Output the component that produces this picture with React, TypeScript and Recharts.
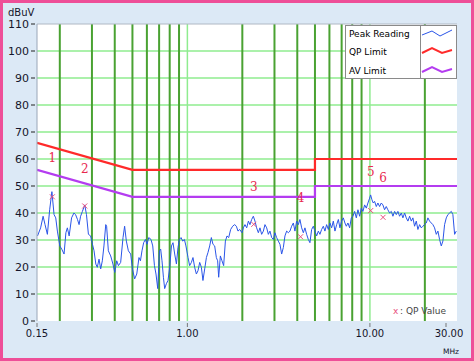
import React from "react";
import {
  ComposedChart,
  Line,
  Scatter,
  XAxis,
  YAxis,
  CartesianGrid,
  ReferenceLine,
} from "recharts";

// peak reading trace (MHz / dBuV)
const peakFreq = [
  0.151, 0.157, 0.162, 0.166, 0.171, 0.176, 0.181, 0.186, 0.19, 0.194, 0.2, 0.205, 0.211, 0.216,
  0.22, 0.225, 0.232, 0.239, 0.244, 0.25, 0.255, 0.26, 0.266, 0.274, 0.28, 0.287, 0.295, 0.302,
  0.308, 0.315, 0.321, 0.328, 0.335, 0.342, 0.349, 0.357, 0.361, 0.369, 0.38, 0.391, 0.4, 0.41,
  0.419, 0.431, 0.444, 0.453, 0.463, 0.475, 0.489, 0.5, 0.514, 0.528, 0.543,
  0.553, 0.564, 0.576, 0.589, 0.601, 0.614, 0.632, 0.646, 0.66, 0.673, 0.688, 0.703, 0.714,
  0.726, 0.739, 0.751, 0.767, 0.783, 0.8, 0.818, 0.834, 0.852, 0.871, 0.888, 0.904, 0.923,
  0.943, 0.963, 0.982, 1.008, 1.029, 1.052, 1.073, 1.096, 1.12, 1.143, 1.168, 1.193, 1.217,
  1.244, 1.271, 1.297, 1.325, 1.353, 1.381, 1.411, 1.441, 1.465, 1.484, 1.516, 1.547, 1.58,
  1.615, 1.648, 1.684, 1.726, 1.77, 1.816, 1.855, 1.893, 1.934, 1.991,
  2.026, 2.068, 2.113, 2.159, 2.202, 2.25, 2.298, 2.346, 2.396, 2.448, 2.498, 2.552, 2.608,
  2.661, 2.719, 2.777, 2.834, 2.896, 2.958, 3.018, 3.083, 3.15, 3.215, 3.284, 3.355, 3.424,
  3.498, 3.574, 3.647, 3.726, 3.806, 3.884, 3.968, 4.054, 4.136, 4.227, 4.318, 4.406, 4.501,
  4.599, 4.692, 4.794, 4.898, 4.998, 5.106, 5.217, 5.323, 5.438, 5.556, 5.67, 5.793, 5.918,
  6.038, 6.17, 6.303, 6.434, 6.573, 6.716, 6.85, 6.998, 7.15, 7.296,
  7.427, 7.578, 7.742, 7.91, 8.071, 8.246, 8.424, 8.597, 8.783, 8.973, 9.156, 9.354, 9.557,
  9.752, 9.963, 10.09, 10.26, 10.43, 10.61, 10.84, 11.06, 11.3, 11.54, 11.78, 12.03, 12.29,
  12.54, 12.82, 13.1, 13.37, 13.66, 13.95, 14.23, 14.54, 14.86, 15.16, 15.49, 15.82, 16.15,
  16.5, 16.86, 17.2, 17.57, 17.95, 18.32, 18.72, 19.12, 19.51, 19.93, 20.36, 20.78, 21.23,
  21.69, 22.13, 22.61, 23.1, 23.58, 24.08, 24.6, 25.11, 25.65, 26.21, 26.74, 27.32, 27.92,
  28.49, 29.11, 29.73,
];
const peakLevel = [
  31.5, 34.5, 38.8, 35.7, 32.1, 41.2, 47.9, 39.4, 38.2, 33.3, 27.8, 26.6, 24.8, 32.7,
  34.5, 31.5, 38.2, 40.0, 39.4, 37.6, 35.7, 38.8, 40.6, 43.0, 39.4, 32.1, 31.5, 28.4,
  26.0, 21.1, 19.9, 22.9, 19.3, 22.3, 27.8, 35.7, 35.1, 26.0, 24.1, 21.1, 18.0, 22.3,
  20.5, 21.7, 30.9, 35.1, 29.6, 26.0, 24.8, 19.3, 15.6, 17.4, 23.5,
  22.3, 26.0, 29.0, 30.2, 28.4, 30.9, 30.2, 27.8, 20.5, 17.4, 12.0, 26.0, 26.6,
  22.3, 16.2, 12.0, 13.8, 15.0, 19.9, 27.8, 29.0, 24.8, 21.1, 27.2, 30.2, 30.9,
  29.6, 30.2, 27.8, 23.5, 20.5, 21.7, 23.5, 19.9, 17.4, 18.6, 21.7, 19.9, 15.0,
  19.3, 23.5, 25.4, 27.8, 30.9, 28.4, 27.8, 23.5, 22.3, 16.2, 24.1, 22.3, 20.5,
  29.6, 31.5, 30.9, 33.9, 35.1, 35.7, 35.1, 33.3, 33.9, 32.7,
  34.5, 35.7, 34.5, 37.0, 35.7, 37.6, 38.8, 37.0, 34.5, 32.7, 34.5, 32.1, 33.3,
  35.7, 34.5, 32.1, 33.3, 30.9, 30.2, 32.7, 30.9, 29.6, 28.4, 24.8, 27.2, 31.5,
  33.3, 32.7, 33.3, 35.1, 36.3, 33.3, 37.0, 35.7, 37.6, 34.5, 32.7, 34.5, 32.1,
  30.2, 29.0, 33.9, 35.1, 33.3, 31.5, 33.3, 32.1, 33.9, 35.1, 33.3, 35.7, 33.9,
  36.3, 34.5, 37.0, 33.3, 35.7, 37.6, 34.5, 37.0, 38.2, 36.3,
  35.1, 36.3, 34.5, 38.2, 38.8, 40.6, 38.2, 41.2, 38.8, 41.8, 40.6, 43.0, 41.8,
  43.7, 45.5, 46.7, 44.9, 43.7, 44.3, 42.4, 43.7, 42.4, 43.7, 43.0, 41.2, 42.4,
  41.2, 40.0, 40.6, 38.8, 40.6, 39.4, 40.6, 38.8, 40.0, 38.2, 40.0, 38.2, 37.0,
  38.8, 37.0, 38.2, 35.1, 37.0, 33.9, 35.7, 34.5, 35.1, 35.7, 36.3, 38.2, 37.0,
  36.3, 35.7, 34.5, 32.1, 33.3, 30.2, 27.8, 29.6, 35.7, 38.2, 39.4, 40.0, 40.6,
  39.4, 32.1, 33.3,
];

// limits
const qpLimitFreq = [0.15, 0.5, 5, 5, 30];
const qpLimitLevel = [66, 56, 56, 60, 60];
const avLimitFreq = [0.15, 0.5, 5, 5, 30];
const avLimitLevel = [56, 46, 46, 50, 50];

// marked QP points
const markerNo = ["1", "2", "3", "4", "5", "6"];
const markerFreq = [0.182, 0.274, 2.31, 4.17, 10.1, 11.8];
const qpValue = [46.0, 42.6, 35.8, 31.2, 40.9, 38.4];
const markerTagLevel = [60.2, 56.3, 49.8, 45.4, 55.3, 52.8];

const xTicks = [0.15, 1, 10, 30];
const yTicks = [0, 10, 20, 30, 40, 50, 60, 70, 80, 90, 100, 110];
const minorGridFreq = [0.2, 0.3, 0.4, 0.5, 0.6, 0.7, 0.8, 0.9, 2, 3, 4, 5, 6, 7, 8, 9, 20];
const majorGridFreq = [1, 10];
const hGridLevel = [10, 20, 30, 40, 50, 60, 70, 80, 90, 100];

const FONT = "'DejaVu Sans', Verdana, sans-serif";
const PINK = "#ee4f98";

const peakData = peakFreq.map((f, i) => ({ f, v: peakLevel[i] }));
const qpLimitData = qpLimitFreq.map((f, i) => ({ f, v: qpLimitLevel[i] }));
const avLimitData = avLimitFreq.map((f, i) => ({ f, v: avLimitLevel[i] }));
const qpData = markerFreq.map((f, i) => ({ f, v: qpValue[i] }));
const tagData = markerFreq.map((f, i) => ({ f, v: markerTagLevel[i], no: markerNo[i] }));

function YTick({ x, y, payload }: any) {
  return (
    <g>
      <line x1={x - 6} x2={x - 2} y1={y} y2={y} stroke="#222" strokeWidth={1} />
      <text x={x - 8} y={y + 4} textAnchor="end" fontSize={11} fill="#15152a" fontFamily={FONT}>
        {payload.value}
      </text>
    </g>
  );
}

function XTick({ x, y, payload }: any) {
  const last = payload.value >= 30;
  const mx = last ? x - 11 : x;
  return (
    <g>
      <line x1={mx} x2={mx} y1={y + 2} y2={y + 6} stroke="#777" strokeWidth={1} />
      <text x={last ? x - 8 : x} y={y + 16} textAnchor="middle" fontSize={10} fill="#15152a" fontFamily={FONT}>
        {payload.value.toFixed(2)}
      </text>
    </g>
  );
}

function QpCross({ cx, cy }: any) {
  return (
    <g stroke="#e8507e" strokeWidth={1}>
      <line x1={cx - 2.5} x2={cx + 2.5} y1={cy - 2.5} y2={cy + 2.5} />
      <line x1={cx - 2.5} x2={cx + 2.5} y1={cy + 2.5} y2={cy - 2.5} />
    </g>
  );
}

function Tag({ cx, cy, payload }: any) {
  return (
    <text x={cx} y={cy + 4} textAnchor="middle" fontSize={12} fill="#e8284e" fontFamily="'DejaVu Serif', serif">
      {payload.no}
    </text>
  );
}

function Overlay() {
  return (
    <svg width={474} height={361} style={{ position: "absolute", left: 0, top: 0, pointerEvents: "none" }}>
      <text x={8} y={16} fontSize={10} fill="#15152a" fontFamily={FONT}>dBuV</text>
      <text x={451} y={354} fontSize={7.5} textAnchor="middle" fill="#15152a" fontFamily={FONT}>MHz</text>
      <text x={393} y={314} fontSize={9} fill="#e8507e" fontFamily={FONT}>x</text>
      <text x={400} y={314} fontSize={9} fill="#444" fontFamily={FONT}>: QP Value</text>
      {/* legend */}
      <rect x={345.5} y={25.5} width={111} height={53} fill="#fff" stroke="#8a8a8a" />
      <line x1={420.5} x2={420.5} y1={25.5} y2={78.5} stroke="#8a8a8a" />
      <text x={349} y={37} fontSize={9} fill="#000" fontFamily={FONT}>Peak Reading</text>
      <text x={349} y={55} fontSize={9} fill="#000" fontFamily={FONT}>QP Limit</text>
      <text x={349} y={74} fontSize={9} fill="#000" fontFamily={FONT}>AV Limit</text>
      <polyline points="422,35 432,31 440,36 452,30" fill="none" stroke="#2a55e8" strokeWidth={1} />
      <polyline points="422,53 432,48 442,53 452,50" fill="none" stroke="#ff2a2a" strokeWidth={2} />
      <polyline points="422,72 432,67 442,72 452,69" fill="none" stroke="#b43cf0" strokeWidth={2} />
    </svg>
  );
}

export default function App() {
  return (
    <div style={{ position: "relative", width: 474, height: 361, background: "#dce9f6", overflow: "hidden" }}>
      <style>{"body{margin:0}"}</style>
      <ComposedChart width={474} height={361} margin={{ top: 24, right: 17, bottom: 10, left: 0 }}>
        <CartesianGrid
          fill="#ffffff"
          horizontalValues={hGridLevel}
          verticalValues={majorGridFreq}
          stroke="#8fec8f"
          strokeWidth={1.5}
        />
        <CartesianGrid
          horizontal={false}
          verticalValues={minorGridFreq}
          stroke="#4aa232"
          strokeWidth={2}
        />
        <XAxis
          dataKey="f"
          type="number"
          scale="log"
          domain={[0.15, 30]}
          ticks={xTicks}
          allowDataOverflow
          height={30}
          tickLine={false}
          tickSize={0}
          tickMargin={0}
          axisLine={false}
          tick={<XTick />}
          interval={0}
        />
        <YAxis
          type="number"
          domain={[0, 110]}
          ticks={yTicks}
          width={37}
          tickLine={false}
          tickSize={0}
          tickMargin={0}
          axisLine={{ stroke: "#9aa6b8" }}
          tick={<YTick />}
          interval={0}
        />
        <ReferenceLine y={110} stroke="#b0b8c4" strokeWidth={1} />
        <Line data={qpLimitData} dataKey="v" stroke="#ff2a2a" strokeWidth={2.2} dot={false} isAnimationActive={false} />
        <Line data={avLimitData} dataKey="v" stroke="#b43cf0" strokeWidth={2.2} dot={false} isAnimationActive={false} />
        <Line data={peakData} dataKey="v" stroke="#2a55e8" strokeWidth={1} dot={false} isAnimationActive={false} />
        <Scatter data={qpData} dataKey="v" shape={<QpCross />} isAnimationActive={false} />
        <Scatter data={tagData} dataKey="v" shape={<Tag />} isAnimationActive={false} />
      </ComposedChart>
      <Overlay />
      <div
        style={{
          position: "absolute",
          inset: 0,
          border: `3px solid ${PINK}`,
          boxSizing: "border-box",
          pointerEvents: "none",
        }}
      />
    </div>
  );
}
